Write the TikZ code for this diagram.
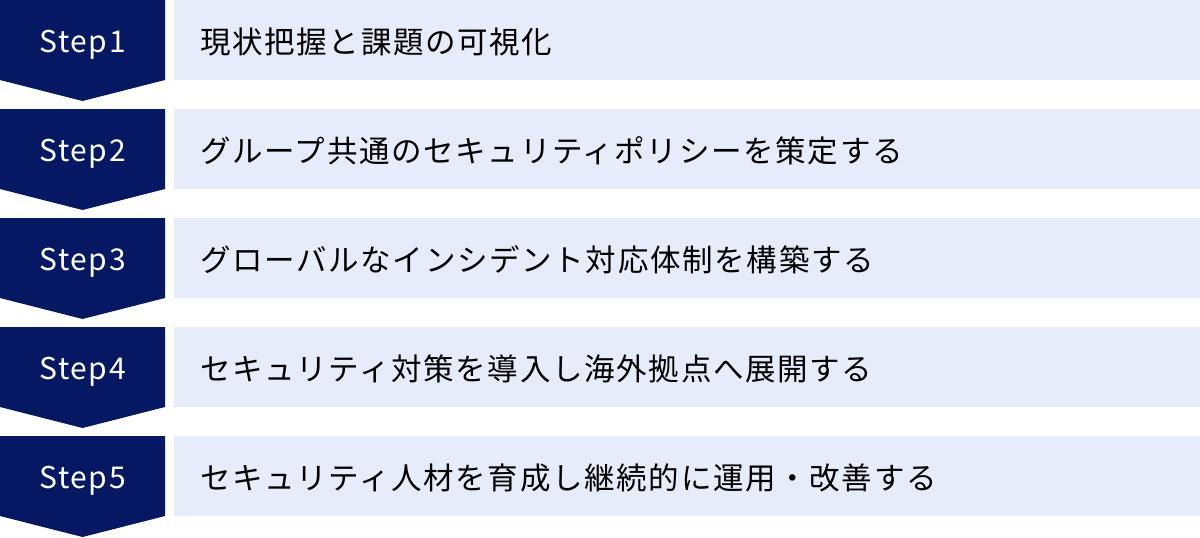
\documentclass[tikz,border=0pt]{standalone}
\usepackage{fontspec}
\setmainfont{Noto Sans CJK JP}
\newfontfamily\jpfont[LetterSpace=5.5]{Noto Sans CJK JP}
\definecolor{stepnavy}{RGB}{6,24,98}
\definecolor{boxblue}{RGB}{230,236,249}
\tikzset{
  steplabel/.style={text=white, inner sep=0pt, anchor=base, font=\jpfont\fontsize{30}{30}\selectfont},
  itembox/.style={fill=boxblue, minimum width=1026pt, minimum height=80pt, anchor=north west, inner sep=0pt},
  itemlabel/.style={anchor=west, inner sep=0pt, font=\jpfont\fontsize{30.5}{30.5}\selectfont}
}
\begin{document}
\begin{tikzpicture}[x=1pt, y=-1pt]
  \useasboundingbox (0,0) rectangle (1200,538);
  \foreach \i/\txt in {1/現状把握と課題の可視化,
                       2/グループ共通のセキュリティポリシーを策定する,
                       3/グローバルなインシデント対応体制を構築する,
                       4/セキュリティ対策を導入し海外拠点へ展開する,
                       5/セキュリティ人材を育成し継続的に運用・改善する} {
    \pgfmathsetmacro{\rowtop}{(\i-1)*109}
    \fill[stepnavy] (0,\rowtop) -- (165,\rowtop) -- (165,\rowtop+80)
      -- (82.5,\rowtop+101) -- (0,\rowtop+80) -- cycle;
    \node[steplabel] (step\i) at (82.5,\rowtop+52) {Step\i};
    \node[itembox] (box\i) at (174,\rowtop) {};
    \node[itemlabel] (label\i) at ([xshift=26pt, yshift=-2pt]box\i.west) {\txt};
  }
\end{tikzpicture}
\end{document}
